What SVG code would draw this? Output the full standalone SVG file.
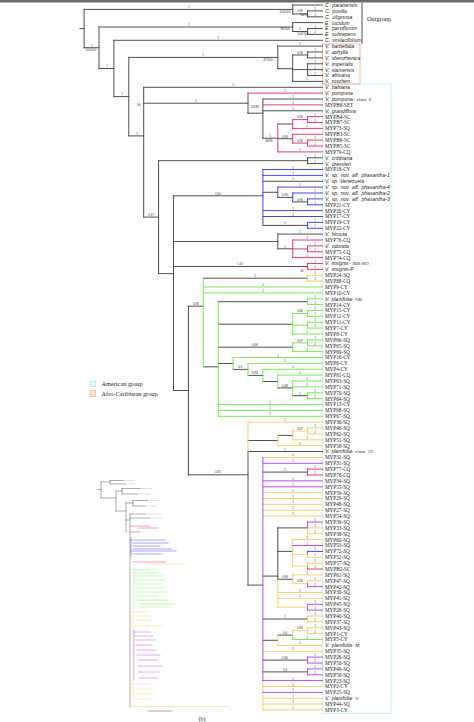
<svg xmlns="http://www.w3.org/2000/svg" width="474" height="722" viewBox="0 0 474 722">
<style>
path{fill:none;stroke-width:0.95;stroke-linecap:square}
.g{stroke:#474747}.r{stroke:#e8335f}.b{stroke:#3c3ce6}.gr{stroke:#74e650}.y{stroke:#f2d068}.p{stroke:#b246e6}
.th{stroke-width:0.45}.tl{stroke:#c8c8c8;stroke-width:0.6}
text{fill:#1e1e1e}
.sp{font-family:"Liberation Sans",Arial,sans-serif;font-style:italic;font-size:5.1px;word-spacing:0.8px}
.my{font-family:"Liberation Serif","Times New Roman",serif;font-size:5.2px}
.sf{font-family:"Liberation Serif","Times New Roman",serif;font-size:4.8px;font-style:normal}
.s{font-family:"Liberation Sans",Arial,sans-serif;font-size:3px;fill:#333;text-anchor:middle}
.lg{font-family:"Liberation Serif","Times New Roman",serif;font-size:6.3px}
</style>
<rect width="474" height="722" fill="#fff"/>
<rect width="474" height="2.5" fill="#6b6b6b"/>
<g id="groups">
<rect x="322.3" y="84" width="68.7" height="629.3" fill="none" stroke="#b4e8f0" stroke-width="0.8"/>
<rect x="322.3" y="44" width="37.7" height="40" fill="none" stroke="#f0a890" stroke-width="0.8"/>
<path class="g" d="M362,3.3V43.3"/>
<text class="lg" x="367" y="21">Outgroup</text>
</g>
<g id="legend">
<rect x="90" y="381" width="5.7" height="5.7" fill="#e6fafc" stroke="#a8e4ee" stroke-width="0.6"/>
<text class="lg" x="101.5" y="386.3">American group</text>
<rect x="90" y="390.7" width="5.7" height="5.7" fill="#fbe4da" stroke="#eea080" stroke-width="0.6"/>
<text class="lg" x="101.5" y="395.8">Afro-Caribbean group</text>
</g>
<g id="connectors">
<path class="g" d="M80,28.6H84.1M84.1,9.4V47.7M84.1,9.4H292.7M84.1,47.7H99
M292.7,5V13.9M292.7,5H322.5M292.7,13.9H307.6M307.6,10.9V16.8M307.6,10.9H322.5M307.6,16.8H322.5
M99,27V68.5M99,27H292.7M99,68.5H113.9
M292.7,22.6V31.5M292.7,22.6H322.5M292.7,31.5H307.6M307.6,28.5V34.4M307.6,28.5H322.5M307.6,34.4H322.5
M113.9,40.3V96.6M113.9,40.3H322.5M113.9,96.6H128.8
M128.8,57.4V135.9M128.8,57.4H277.8M128.8,135.9H143.7
M277.8,46.1V68.7M277.8,46.1H322.5M277.8,68.7H292.7
M292.7,55V81.4M292.7,55H307.6M292.7,69.6H307.6M292.7,81.4H322.5
M307.6,52V57.9M307.6,52H322.5M307.6,57.9H322.5
M307.6,63.8V75.5M307.6,63.8H322.5M307.6,69.6H322.5M307.6,75.5H322.5
M143.7,87.3V217.1M143.7,87.3H322.5M143.7,103.2H248M143.7,217.1H158.6
M248,93.1V113.2M248,113.2H262.9
M262.9,99V138.2M262.9,99H322.5M262.9,110.8H322.5M262.9,138.2H277.8
M277.8,124H292.7M277.8,138.7H292.7
M158.6,160.7V273.6M158.6,160.7H307.6M307.6,157.8V163.6M307.6,157.8H322.5M307.6,163.6H322.5M158.6,273.6H173.5
M173.5,195.8V390.5M173.5,195.8H262.9M173.5,241.5H277.8M173.5,266.5H307.6M173.5,390.5H188.4
M262.9,181.3H322.5M262.9,192.3H277.8M277.8,197.4H292.7M292.7,201.9H307.6M262.9,225.4H307.6
M277.8,234.1V248.8M277.8,234.1H322.5M277.8,248.8H292.7
M188.4,306.2V474.8M188.4,306.2H203.3M188.4,474.8H248
M203.3,278.2H307.6M203.3,366.8H218.2
M218.2,301.7H307.6M218.2,324.2H292.7M218.2,347.2H292.7M218.2,363.5H233.1
M233.1,369.4H248M248,375.4H262.9M262.9,381.5H277.8M277.8,387.9H292.7M292.7,395.7H307.6
M248,451.5V585.1M248,440.5H277.8M277.8,435.4H292.7M248,451.5H322.5M248,585.1H262.9
M262.9,472.1H307.6M262.9,576.1H277.8M277.8,527.9V579.3M277.8,527.9H307.6M277.8,551.4H292.7M277.8,579.3H292.7
M262.9,619H307.6M262.9,640.3H277.8M277.8,635.1H292.7M262.9,660.1H307.6M262.9,671.9H307.6"/>
<path class="r" d="M248,93.1H322.5M262.9,104.9H322.5
M277.8,124V151.9M277.8,151.9H322.5
M292.7,119.6V128.4M292.7,119.6H307.6M292.7,128.4H322.5M307.6,116.6V122.5M307.6,116.6H322.5M307.6,122.5H322.5
M292.7,134.3V143.1M292.7,134.3H322.5M292.7,143.1H307.6M307.6,140.1V146M307.6,140.1H322.5M307.6,146H322.5
M292.7,240V257.6M292.7,240H322.5M292.7,248.9H307.6M292.7,257.6H322.5M307.6,245.9V251.8M307.6,245.9H322.5M307.6,251.8H322.5
M307.6,263.5V269.4M307.6,263.5H322.5M307.6,269.4H322.5
M307.6,469.1V475M307.6,469.1H322.5M307.6,475H322.5
M307.6,566.1V569M307.6,569H322.5"/>
<path class="b" d="M262.9,169.5V225.4M262.9,169.5H322.5M262.9,175.4H322.5
M277.8,187.1V197.4M277.8,187.1H322.5M292.7,193V201.9M292.7,193H322.5
M307.6,198.9V204.8M307.6,198.9H322.5M307.6,204.8H322.5
M262.9,210.6H322.5M262.9,216.5H322.5
M307.6,222.4V228.3M307.6,222.4H322.5M307.6,228.3H322.5
M307.6,551.4V554.4M307.6,551.4H322.5"/>
<path class="gr" d="M203.3,278.2V366.8M203.3,287H322.5M203.3,292.9H322.5
M218.2,301.7V416.3M307.6,298.8V304.6M307.6,298.8H322.5M307.6,304.6H322.5
M292.7,313.5V334M292.7,313.5H307.6M292.7,325.2H307.6M292.7,334H322.5M307.6,310.5V316.4M307.6,310.5H322.5M307.6,316.4H322.5M307.6,322.3V328.1M307.6,322.3H322.5M307.6,328.1H322.5
M292.7,342.9V351.6M292.7,342.9H307.6M292.7,351.6H322.5M307.6,339.9V345.8M307.6,339.9H322.5M307.6,345.8H322.5
M233.1,357.5V369.4M233.1,357.5H322.5M248,363.4V375.4M248,363.4H322.5M262.9,369.3V381.5M262.9,369.3H322.5
M277.8,375.1V387.9M277.8,375.1H322.5M292.7,381V395.7M292.7,381H322.5M292.7,386.9H322.5
M307.6,392.8V398.6M307.6,392.8H322.5M307.6,398.6H322.5
M218.2,404.5H322.5M218.2,410.4H322.5M218.2,416.3H322.5
M292.7,635.1V639.5M292.7,639.5H322.5"/>
<path class="y" d="M307.6,275.3V281.1M307.6,275.3H322.5M307.6,281.1H322.5
M248,422.1V451.5M248,422.1H322.5M277.8,435.4V445.6M277.8,445.6H322.5M292.7,431V439.8M292.7,439.8H322.5M292.7,431H307.6
M307.6,428V433.9M307.6,428H322.5M307.6,433.9H322.5
M262.9,680.6V710M262.9,457.4H322.5M262.9,492.6H322.5M262.9,498.5H322.5M262.9,504.4H322.5M262.9,510.3H322.5M262.9,516.1H322.5
M277.8,579.3V607.2M307.6,527.9V533.8M307.6,527.9H322.5M307.6,533.8H322.5
M292.7,539.6V566.1M292.7,539.6H322.5M292.7,554.4H307.6M292.7,566.1H307.6M307.6,554.4V557.3M307.6,557.3H322.5M307.6,563.1V566.1M307.6,563.1H322.5
M292.7,574.9V583.7M292.7,574.9H322.5M292.7,583.7H307.6M307.6,580.8V583.7M307.6,580.8H322.5
M277.8,592.5H322.5M277.8,598.4H322.5M277.8,607.2H307.6
M307.6,616V621.9M307.6,616H322.5M307.6,621.9H322.5
M277.8,635.1V645.4M277.8,645.4H322.5M292.7,630.7V635.1M292.7,630.7H307.6M307.6,627.8V633.6M307.6,627.8H322.5M307.6,633.6H322.5
M262.9,651.3H322.5M262.9,686.5H322.5M262.9,698.3H322.5M262.9,704.1H322.5M262.9,710H322.5"/>
<path class="p" d="M262.9,457.4V680.6M262.9,463.3H322.5M262.9,480.9H322.5M262.9,486.8H322.5
M307.6,522V527.9M307.6,522H322.5M292.7,545.5H322.5M307.6,583.7V586.6M307.6,586.6H322.5
M307.6,604.3V610.1M307.6,604.3H322.5M307.6,610.1H322.5
M307.6,657.1V663M307.6,657.1H322.5M307.6,663H322.5
M307.6,668.9V674.8M307.6,668.9H322.5M307.6,674.8H322.5
M262.9,680.6H322.5M262.9,692.4H322.5"/>
</g>
<g id="support">
<text class="s" x="189" y="8">1</text><text class="s" x="285" y="13.3">100/100</text><text class="s" x="300" y="11.6">0.89</text><text class="s" x="304" y="16.3">94/99</text>
<text class="s" x="315" y="9.9">1</text><text class="s" x="315" y="15.8">1</text>
<text class="s" x="189" y="25.6">1</text><text class="s" x="285" y="30.3">99/100</text><text class="s" x="300" y="30.2">1</text><text class="s" x="303" y="35.2">100/100</text>
<text class="s" x="315" y="27.5">1</text><text class="s" x="315" y="33.4">1</text>
<text class="s" x="92" y="46.5">1</text><text class="s" x="91" y="50.7">100/100</text>
<text class="s" x="218" y="39.3">1</text><text class="s" x="203" y="56.4">1</text><text class="s" x="268" y="61">87/100</text>
<text class="s" x="107" y="67.3">1</text><text class="s" x="300" y="45.1">1</text><text class="s" x="300" y="54">0.86</text><text class="s" x="315" y="51">1</text><text class="s" x="315" y="56.9">1</text>
<text class="s" x="315" y="62.8">1</text><text class="s" x="315" y="68.6">1</text><text class="s" x="315" y="74.5">1</text><text class="s" x="307" y="80.4">1</text>
<text class="s" x="122" y="95.3">1</text><text class="s" x="137" y="134.6">1</text><text class="s" x="139" y="105.6">90</text>
<text class="s" x="233" y="86.3">1</text><text class="s" x="196" y="102">1</text><text class="s" x="255" y="107.6">53/88</text>
<text class="s" x="285" y="92.1">1</text><text class="s" x="293" y="98">1</text><text class="s" x="293" y="103.9">1</text><text class="s" x="293" y="109.8">1</text>
<text class="s" x="300" y="118.4">0.86</text><text class="s" x="315" y="115.6">1</text><text class="s" x="315" y="121.5">1</text><text class="s" x="307" y="127.4">1</text>
<text class="s" x="270" y="137">1</text><text class="s" x="285" y="137.5">0.86</text><text class="s" x="269" y="141.5">96/86</text><text class="s" x="300" y="142">0.86</text><text class="s" x="315" y="139.1">1</text><text class="s" x="315" y="145">1</text><text class="s" x="300" y="150.9">1</text>
<text class="s" x="315" y="156.8">1</text><text class="s" x="315" y="162.6">1</text>
<text class="s" x="293" y="168.5">1</text><text class="s" x="293" y="174.4">1</text><text class="s" x="293" y="180.3">1</text>
<text class="s" x="218" y="194.6">0.90</text><text class="s" x="300" y="186.1">1</text><text class="s" x="285" y="196.2">0.96</text><text class="s" x="300" y="200.6">0.96</text>
<text class="s" x="315" y="192">1</text><text class="s" x="315" y="197.9">1</text><text class="s" x="315" y="203.8">1</text>
<text class="s" x="293" y="209.6">1</text><text class="s" x="293" y="215.5">1</text><text class="s" x="285" y="224.2">1</text><text class="s" x="315" y="221.4">1</text><text class="s" x="315" y="227.3">1</text>
<text class="s" x="151" y="215.8">0.97</text>
<text class="s" x="300" y="233.1">1</text><text class="s" x="307" y="239">1</text><text class="s" x="285" y="247.5">1</text><text class="s" x="315" y="244.9">1</text><text class="s" x="315" y="250.8">1</text><text class="s" x="307" y="256.6">1</text>
<text class="s" x="240" y="265.2">1.00</text><text class="s" x="302" y="271.8">90</text><text class="s" x="315" y="262.5">1</text><text class="s" x="315" y="268.4">1</text>
<text class="s" x="196" y="305">0.86</text><text class="s" x="255" y="277">1</text><text class="s" x="315" y="274.3">1</text><text class="s" x="315" y="280.1">1</text>
<text class="s" x="263" y="286">1</text><text class="s" x="263" y="291.9">1</text>
<text class="s" x="315" y="297.8">1</text><text class="s" x="315" y="303.6">1</text>
<text class="s" x="300" y="312.2">0.86</text><text class="s" x="315" y="309.5">1</text><text class="s" x="315" y="315.4">1</text><text class="s" x="315" y="321.3">1</text><text class="s" x="315" y="327.1">1</text><text class="s" x="307" y="333">1</text>
<text class="s" x="255" y="346">0.86</text><text class="s" x="300" y="341.6">0.87</text><text class="s" x="315" y="338.9">1</text><text class="s" x="315" y="344.8">1</text><text class="s" x="307" y="350.6">1</text>
<text class="s" x="240" y="368.2">0.6</text><text class="s" x="255" y="374.2">0.88</text><text class="s" x="285" y="386.7">0.88</text><text class="s" x="300" y="394.5">1</text>
<text class="s" x="278" y="356.5">1</text><text class="s" x="285" y="362.4">1</text><text class="s" x="293" y="368.3">1</text><text class="s" x="300" y="374.1">1</text><text class="s" x="307" y="380">1</text><text class="s" x="307" y="385.9">1</text>
<text class="s" x="315" y="391.8">1</text><text class="s" x="315" y="397.6">1</text>
<text class="s" x="270" y="403.5">1</text><text class="s" x="270" y="409.4">1</text><text class="s" x="270" y="415.3">1</text>
<text class="s" x="218" y="473.4">0.81</text>
<text class="s" x="285" y="421.1">1</text><text class="s" x="300" y="429.7">0.87</text><text class="s" x="315" y="427">1</text><text class="s" x="315" y="432.9">1</text><text class="s" x="307" y="438.8">1</text><text class="s" x="300" y="444.6">1</text>
<text class="s" x="285" y="450.5">1</text><text class="s" x="293" y="456.4">1</text><text class="s" x="293" y="462.3">1</text><text class="s" x="285" y="470.8">1</text>
<text class="s" x="315" y="468.1">1</text><text class="s" x="315" y="474">1</text>
<text class="s" x="293" y="479.9">1</text><text class="s" x="293" y="485.8">1</text><text class="s" x="293" y="491.6">1</text><text class="s" x="293" y="497.5">1</text><text class="s" x="293" y="503.4">1</text><text class="s" x="293" y="509.3">1</text><text class="s" x="293" y="515.1">1</text>
<text class="s" x="315" y="521">1</text><text class="s" x="315" y="526.9">1</text><text class="s" x="315" y="532.8">1</text>
<text class="s" x="307" y="538.6">1</text><text class="s" x="307" y="544.5">1</text><text class="s" x="315" y="550.4">1</text><text class="s" x="315" y="556.3">1</text><text class="s" x="315" y="562.1">1</text><text class="s" x="315" y="568">1</text>
<text class="s" x="285" y="577.9">0.86</text><text class="s" x="300" y="582.3">0.86</text><text class="s" x="307" y="573.9">1</text><text class="s" x="315" y="579.8">1</text><text class="s" x="315" y="585.6">1</text>
<text class="s" x="300" y="591.5">1</text><text class="s" x="300" y="597.4">1</text><text class="s" x="315" y="603.3">1</text><text class="s" x="315" y="609.1">1</text>
<text class="s" x="285" y="617.6">1</text><text class="s" x="315" y="615">1</text><text class="s" x="315" y="620.9">1</text>
<text class="s" x="285" y="633.8">0.6</text><text class="s" x="300" y="629.3">0.88</text><text class="s" x="315" y="626.8">1</text><text class="s" x="315" y="632.6">1</text><text class="s" x="307" y="638.5">1</text>
<text class="s" x="300" y="644.4">1</text><text class="s" x="293" y="650.3">1</text>
<text class="s" x="285" y="658.7">0.86</text><text class="s" x="315" y="656.1">1</text><text class="s" x="315" y="662">1</text>
<text class="s" x="285" y="670.5">0.9</text><text class="s" x="315" y="667.9">1</text><text class="s" x="315" y="673.8">1</text>
<text class="s" x="293" y="679.6">1</text><text class="s" x="293" y="685.5">1</text><text class="s" x="293" y="691.4">1</text><text class="s" x="293" y="697.3">1</text><text class="s" x="293" y="703.1">1</text><text class="s" x="293" y="709">1</text>
</g>
<g id="leaves">
<g id="t1"><text class="sp" x="325" y="6.9">C. paranensis</text></g>
<g id="t2"><text class="sp" x="325" y="12.8">C. pusilla</text></g>
<g id="t3"><text class="sp" x="325" y="18.7">C. uliginosa</text></g>
<g id="t4"><text class="sp" x="325" y="24.5">E. lucidum</text></g>
<g id="t5"><text class="sp" x="325" y="30.4">E. parviflorum</text></g>
<g id="t6"><text class="sp" x="325" y="36.3">E. subrepens</text></g>
<g id="t7"><text class="sp" x="325" y="42.2">C. smilacifolium</text></g>
<g id="t8"><text class="sp" x="325" y="48">V. barbellata</text></g>
<g id="t9"><text class="sp" x="325" y="53.9">V. aphylla</text></g>
<g id="t10"><text class="sp" x="325" y="59.8">V. shenzhenica</text></g>
<g id="t11"><text class="sp" x="325" y="65.7">V. imperialis</text></g>
<g id="t12"><text class="sp" x="325" y="71.5">V. siamensis</text></g>
<g id="t13"><text class="sp" x="325" y="77.4">V. africana</text></g>
<g id="t14"><text class="sp" x="325" y="83.3">V. roschen</text></g>
<g id="t15"><text class="sp" x="325" y="89.2">V. bahiana</text></g>
<g id="t16"><text class="sp" x="325" y="95">V. pompona</text></g>
<g id="t17"><text class="sp" x="325" y="100.9">V. pompona<tspan class="sf">- clone 8</tspan></text></g>
<g id="t18"><text class="my" x="325" y="106.8">MYPB8-SET</text></g>
<g id="t19"><text class="sp" x="325" y="112.7">V. grandiflora</text></g>
<g id="t20"><text class="my" x="325" y="118.5">MYPB4-SC</text></g>
<g id="t21"><text class="my" x="325" y="124.4">MYPB7-SC</text></g>
<g id="t22"><text class="my" x="325" y="130.3">MYP73-SQ</text></g>
<g id="t23"><text class="my" x="325" y="136.2">MYPB3-SC</text></g>
<g id="t24"><text class="my" x="325" y="142">MYPB6-SC</text></g>
<g id="t25"><text class="my" x="325" y="147.9">MYPB5-SC</text></g>
<g id="t26"><text class="my" x="325" y="153.8">MYP79-CQ</text></g>
<g id="t27"><text class="sp" x="325" y="159.7">V. cribbiana</text></g>
<g id="t28"><text class="sp" x="325" y="165.5">V. dressleri</text></g>
<g id="t29"><text class="my" x="325" y="171.4">MYP18-CY</text></g>
<g id="t30"><text class="sp" x="325" y="177.3">V. sp. nov. aff. phasantha-1</text></g>
<g id="t31"><text class="sp" x="325" y="183.2">V. sp.-Venezuela</text></g>
<g id="t32"><text class="sp" x="325" y="189">V. sp. nov. aff. phasantha-4</text></g>
<g id="t33"><text class="sp" x="325" y="194.9">V. sp. nov. aff. phasantha-2</text></g>
<g id="t34"><text class="sp" x="325" y="200.8">V. sp. nov. aff. phasantha-3</text></g>
<g id="t35"><text class="my" x="325" y="206.7">MYP21-CY</text></g>
<g id="t36"><text class="my" x="325" y="212.5">MYP20-CY</text></g>
<g id="t37"><text class="my" x="325" y="218.4">MYP17-CY</text></g>
<g id="t38"><text class="my" x="325" y="224.3">MYP19-CY</text></g>
<g id="t39"><text class="my" x="325" y="230.2">MYP22-CY</text></g>
<g id="t40"><text class="sp" x="325" y="236">V. hirsuta</text></g>
<g id="t41"><text class="my" x="325" y="241.9">MYP76-CQ</text></g>
<g id="t42"><text class="sp" x="325" y="247.8">V. odorata</text></g>
<g id="t43"><text class="my" x="325" y="253.7">MYP75-CQ</text></g>
<g id="t44"><text class="my" x="325" y="259.5">MYP74-CQ</text></g>
<g id="t45"><text class="sp" x="325" y="265.4">V. insignis<tspan class="sf">- JBR-RO</tspan></text></g>
<g id="t46"><text class="sp" x="325" y="271.3">V. insignis-P</text></g>
<g id="t47"><text class="my" x="325" y="277.2">MYP24-SQ</text></g>
<g id="t48"><text class="my" x="325" y="283">MYP88-CQ</text></g>
<g id="t49"><text class="my" x="325" y="288.9">MYP9-CY</text></g>
<g id="t50"><text class="my" x="325" y="294.8">MYP10-CY</text></g>
<g id="t51"><text class="sp" x="325" y="300.7">V. planifolia<tspan class="sf">- OB</tspan></text></g>
<g id="t52"><text class="my" x="325" y="306.5">MYP14-CY</text></g>
<g id="t53"><text class="my" x="325" y="312.4">MYP15-CY</text></g>
<g id="t54"><text class="my" x="325" y="318.3">MYP12-CY</text></g>
<g id="t55"><text class="my" x="325" y="324.2">MYP11-CY</text></g>
<g id="t56"><text class="my" x="325" y="330">MYP7-CY</text></g>
<g id="t57"><text class="my" x="325" y="335.9">MYP8-CY</text></g>
<g id="t58"><text class="my" x="325" y="341.8">MYP66-SQ</text></g>
<g id="t59"><text class="my" x="325" y="347.7">MYP65-SQ</text></g>
<g id="t60"><text class="my" x="325" y="353.5">MYP69-SQ</text></g>
<g id="t61"><text class="my" x="325" y="359.4">MYP16-CY</text></g>
<g id="t62"><text class="my" x="325" y="365.3">MYP6-CY</text></g>
<g id="t63"><text class="my" x="325" y="371.2">MYP4-CY</text></g>
<g id="t64"><text class="my" x="325" y="377">MYP81-CQ</text></g>
<g id="t65"><text class="my" x="325" y="382.9">MYP63-SQ</text></g>
<g id="t66"><text class="my" x="325" y="388.8">MYP71-SQ</text></g>
<g id="t67"><text class="my" x="325" y="394.7">MYP70-SQ</text></g>
<g id="t68"><text class="my" x="325" y="400.5">MYP64-SQ</text></g>
<g id="t69"><text class="my" x="325" y="406.4">MYP13-CY</text></g>
<g id="t70"><text class="my" x="325" y="412.3">MYP68-SQ</text></g>
<g id="t71"><text class="my" x="325" y="418.2">MYP67-SQ</text></g>
<g id="t72"><text class="my" x="325" y="424">MYP36-SQ</text></g>
<g id="t73"><text class="my" x="325" y="429.9">MYP46-SQ</text></g>
<g id="t74"><text class="my" x="325" y="435.8">MYP62-SQ</text></g>
<g id="t75"><text class="my" x="325" y="441.7">MYP51-SQ</text></g>
<g id="t76"><text class="my" x="325" y="447.5">MYP56-SQ</text></g>
<g id="t77"><text class="sp" x="325" y="453.4">V. planifolia<tspan class="sf">- clone 19</tspan></text></g>
<g id="t78"><text class="my" x="325" y="459.3">MYP32-SQ</text></g>
<g id="t79"><text class="my" x="325" y="465.2">MYP31-SQ</text></g>
<g id="t80"><text class="my" x="325" y="471">MYP77-CQ</text></g>
<g id="t81"><text class="my" x="325" y="476.9">MYP78-CQ</text></g>
<g id="t82"><text class="my" x="325" y="482.8">MYP34-SQ</text></g>
<g id="t83"><text class="my" x="325" y="488.7">MYP55-SQ</text></g>
<g id="t84"><text class="my" x="325" y="494.5">MYP59-SQ</text></g>
<g id="t85"><text class="my" x="325" y="500.4">MYP29-SQ</text></g>
<g id="t86"><text class="my" x="325" y="506.3">MYP48-SQ</text></g>
<g id="t87"><text class="my" x="325" y="512.2">MYP27-SQ</text></g>
<g id="t88"><text class="my" x="325" y="518">MYP54-SQ</text></g>
<g id="t89"><text class="my" x="325" y="523.9">MYP39-SQ</text></g>
<g id="t90"><text class="my" x="325" y="529.8">MYP33-SQ</text></g>
<g id="t91"><text class="my" x="325" y="535.7">MYP38-SQ</text></g>
<g id="t92"><text class="my" x="325" y="541.5">MYP60-SQ</text></g>
<g id="t93"><text class="my" x="325" y="547.4">MYP53-SQ</text></g>
<g id="t94"><text class="my" x="325" y="553.3">MYP72-SQ</text></g>
<g id="t95"><text class="my" x="325" y="559.2">MYP52-SQ</text></g>
<g id="t96"><text class="my" x="325" y="565">MYP57-SQ</text></g>
<g id="t97"><text class="my" x="325" y="570.9">MYPB2-SC</text></g>
<g id="t98"><text class="my" x="325" y="576.8">MYP61-SQ</text></g>
<g id="t99"><text class="my" x="325" y="582.7">MYP47-SQ</text></g>
<g id="t100"><text class="my" x="325" y="588.5">MYP42-SQ</text></g>
<g id="t101"><text class="my" x="325" y="594.4">MYP30-SQ</text></g>
<g id="t102"><text class="my" x="325" y="600.3">MYP41-SQ</text></g>
<g id="t103"><text class="my" x="325" y="606.2">MYP45-SQ</text></g>
<g id="t104"><text class="my" x="325" y="612">MYP28-SQ</text></g>
<g id="t105"><text class="my" x="325" y="617.9">MYP40-SQ</text></g>
<g id="t106"><text class="my" x="325" y="623.8">MYP37-SQ</text></g>
<g id="t107"><text class="my" x="325" y="629.7">MYP43-SQ</text></g>
<g id="t108"><text class="my" x="325" y="635.5">MYP1-CY</text></g>
<g id="t109"><text class="my" x="325" y="641.4">MYP5-CY</text></g>
<g id="t110"><text class="sp" x="325" y="647.3">V. planifolia<tspan class="sf">- M</tspan></text></g>
<g id="t111"><text class="my" x="325" y="653.2">MYP35-SQ</text></g>
<g id="t112"><text class="my" x="325" y="659">MYP26-SQ</text></g>
<g id="t113"><text class="my" x="325" y="664.9">MYP50-SQ</text></g>
<g id="t114"><text class="my" x="325" y="670.8">MYP49-SQ</text></g>
<g id="t115"><text class="my" x="325" y="676.7">MYP58-SQ</text></g>
<g id="t116"><text class="my" x="325" y="682.5">MYP23-SQ</text></g>
<g id="t117"><text class="my" x="325" y="688.4">MYP2-CY</text></g>
<g id="t118"><text class="my" x="325" y="694.3">MYP25-SQ</text></g>
<g id="t119"><text class="sp" x="325" y="700.2">V. planifolia<tspan class="sf">- V</tspan></text></g>
<g id="t120"><text class="my" x="325" y="706">MYP44-SQ</text></g>
<g id="t121"><text class="my" x="325" y="711.9">MYP3-CY</text></g>
</g>
<g id="thumbnail">
<path class="g th" d="M97,489.5H101M101,482V498M101,482H110M110,480.5V484M110,480.5H124M110,484H126M101,498H116M116,491V511M116,491H122M122,488.5V494M122,488.5H140M122,494H138M116,511H126M126,503V532M126,503H133M133,500.5V506M133,500.5H148M133,506H146M126,520H130M130,514V707M130,514H146M130,518H150M130,532H140M148,711H172"/>
<path class="tl" d="M126,480.5H134M128,484H136M142,488.5H152M140,494H150M150,500.5H158M148,506H156M148,514H160M152,518H162"/>
<path class="r th" d="M130,526H150M138,528H158M133,562H166"/>
<path class="b th" d="M131,538V556M131,540H165M133,543H168M133,546H160M133,549H172M131,551H176M133,554H162"/>
<path class="y th" d="M150,564H185M133,610V700M133,612H148M135,616H150M136,620H152M133,626H162M133,684H150M134,689H152M135,694H153M135,699H150M130,706.5H229"/>
<path class="gr th" d="M134,568V607M134,570H150M135,573H158M135,576H162M136,580H165M136,584H160M137,588H163M137,592H166M136,596H158M137,600H168M140,604H175M140,607H170"/>
<path class="p th" d="M134,630V680M134,632H150M135,636H153M136,640H155M136,645H152M137,650H156M137,655H160M138,660H158M138,666H162M139,672H160M139,678H158"/>
</g>
<text x="202" y="721" font-family="Liberation Serif,serif" font-size="6" text-anchor="middle" fill="#222">(b)</text>
</svg>
